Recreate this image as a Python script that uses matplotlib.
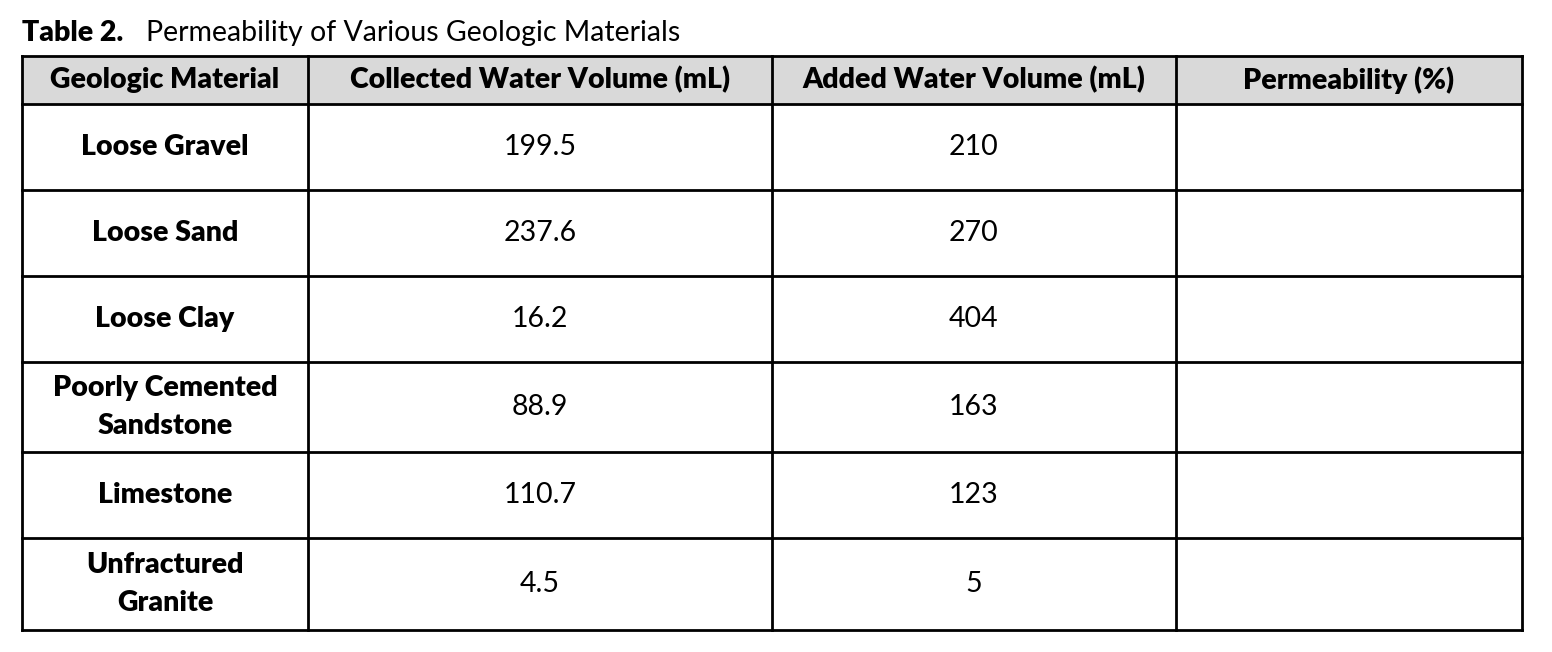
import matplotlib
matplotlib.use("Agg")
import matplotlib.pyplot as plt

columns = ["Geologic Material", "Collected Water Volume (mL)", "Added Water Volume (mL)", "Permeability (%)"]
materials = ["Loose Gravel", "Loose Sand", "Loose Clay", "Poorly Cemented\nSandstone", "Limestone", "Unfractured\nGranite"]
collected = ["199.5", "237.6", "16.2", "88.9", "110.7", "4.5"]
added = ["210", "270", "404", "163", "123", "5"]
permeability = ["", "", "", "", "", ""]

W, H = 1552, 652
fig = plt.figure(figsize=(W/100, H/100), dpi=100)
ax = fig.add_axes([0, 0, 1, 1])
ax.set_xlim(0, W); ax.set_ylim(H, 0); ax.axis("off")
font = "Lato"
fs = 20.5

xs = [22, 308, 772, 1176, 1522]
ys = [56, 104, 190, 276, 362, 452, 538, 630]

ax.fill_between([xs[0], xs[-1]], ys[0], ys[1], color="#d9d9d9", zorder=0)
for x in xs:
    ax.plot([x, x], [ys[0], ys[-1]], color="black", lw=2, solid_capstyle="projecting")
for y in ys:
    ax.plot([xs[0], xs[-1]], [y, y], color="black", lw=2, solid_capstyle="projecting")

ax.text(22, 33, "Table 2.", fontsize=fs, fontweight="heavy", family=font, va="center", ha="left")
ax.text(146, 33, "Permeability of Various Geologic Materials", fontsize=fs, family=font, va="center", ha="left")

def cx(i): return (xs[i] + xs[i+1]) / 2
for i, c in enumerate(columns):
    ax.text(cx(i), (ys[0]+ys[1])/2, c, fontsize=fs, fontweight="heavy", family=font, ha="center", va="center")

for r in range(len(materials)):
    yc = (ys[r+1] + ys[r+2]) / 2
    ax.text(cx(0), yc, materials[r], fontsize=fs, fontweight="heavy", family=font, ha="center", va="center", linespacing=1.55)
    ax.text(cx(1), yc, collected[r], fontsize=fs, family=font, ha="center", va="center")
    ax.text(cx(2), yc, added[r], fontsize=fs, family=font, ha="center", va="center")
    ax.text(cx(3), yc, permeability[r], fontsize=fs, family=font, ha="center", va="center")

fig.savefig("out.png", dpi=100, facecolor="white")
